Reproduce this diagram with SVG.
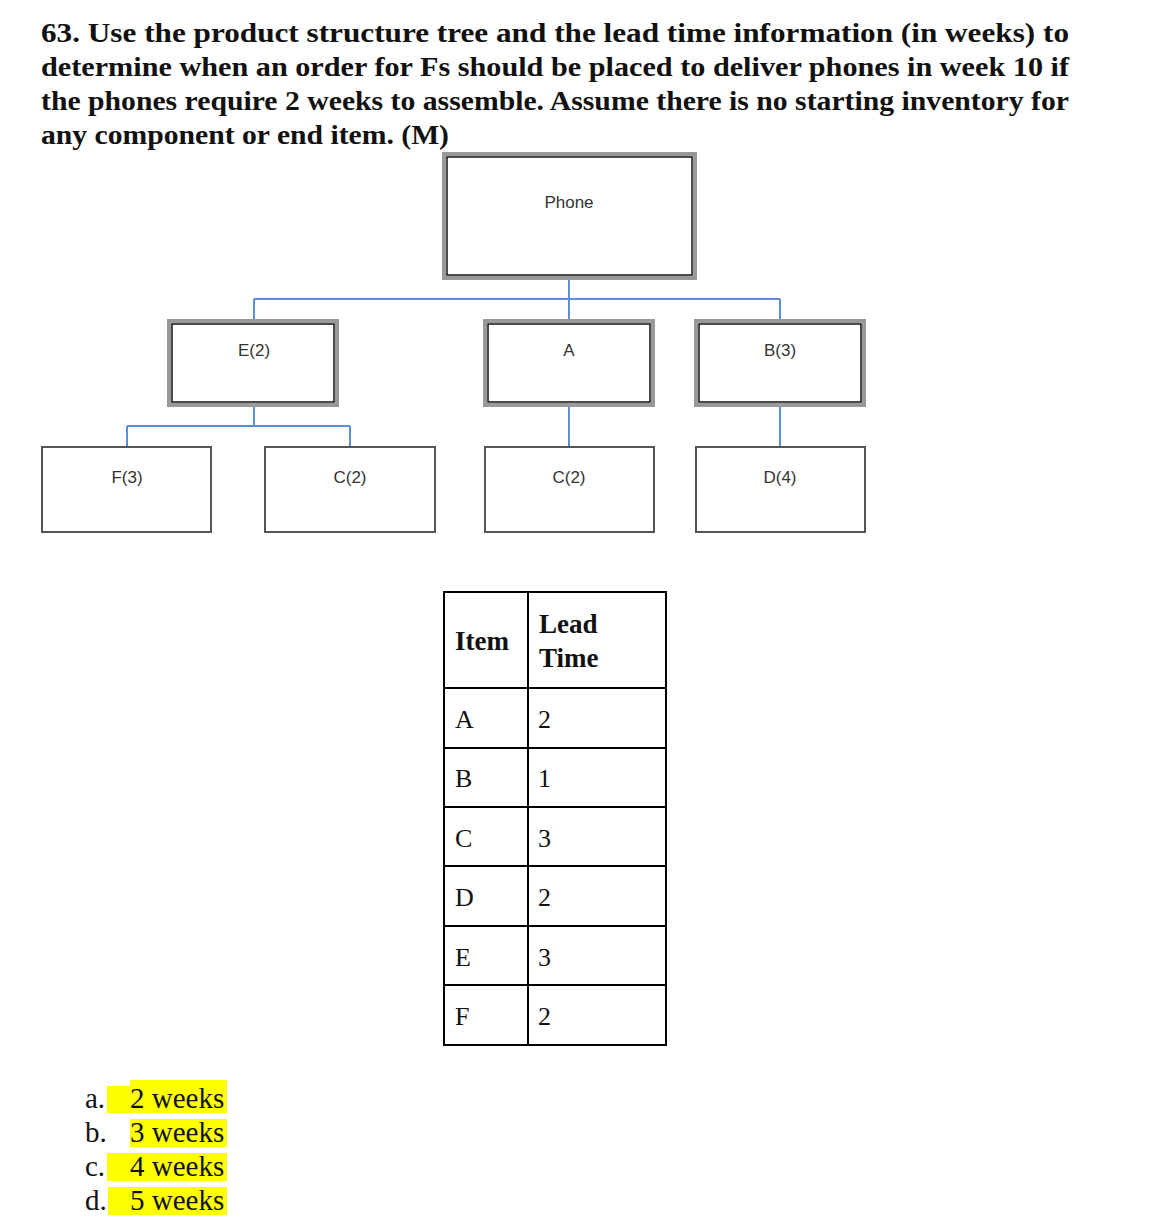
<svg xmlns="http://www.w3.org/2000/svg" width="1162" height="1220" viewBox="0 0 1162 1220">
<style>
.q{font-family:"Liberation Serif",serif;font-size:27px;font-weight:bold;fill:#111}
.n{font-family:"Liberation Sans",Arial,sans-serif;font-size:17px;fill:#333;text-anchor:middle}
.t{font-family:"Liberation Serif",serif;font-size:26px;fill:#111}
.a{font-family:"Liberation Serif",serif;font-size:29px;fill:#111}
.tb{font-family:"Liberation Serif",serif;font-size:27px;font-weight:bold;fill:#111}
.outer{fill:#fff;stroke:#999;stroke-width:4}
.inner{fill:none;stroke:#111;stroke-width:1.5}
.single{fill:#fff;stroke:#555;stroke-width:2}
.c{stroke:#5b8fd8;stroke-width:2;fill:none}
.g{stroke:#000;stroke-width:2;fill:none}
</style>
<rect width="1162" height="1220" fill="#fff"/>
<text class="q" x="41" y="42" textLength="1028" lengthAdjust="spacingAndGlyphs">63. Use the product structure tree and the lead time information (in weeks) to</text>
<text class="q" x="41" y="76" textLength="1028" lengthAdjust="spacingAndGlyphs">determine when an order for Fs should be placed to deliver phones in week 10 if</text>
<text class="q" x="41" y="110" textLength="1028" lengthAdjust="spacingAndGlyphs">the phones require 2 weeks to assemble. Assume there is no starting inventory for</text>
<text class="q" x="41" y="144" textLength="408" lengthAdjust="spacingAndGlyphs">any component or end item. (M)</text>
<g id="connectors">
<path class="c" d="M569 280V299M254 299H780M254 299V319M569 299V319M780 299V319"/>
<path class="c" d="M254 407V426M127 426H350M127 426V446M350 426V446M569 407V446M780 407V446"/>
</g>
<g id="phone"><rect class="outer" x="444" y="154" width="251" height="124"/><rect class="inner" x="447" y="157" width="245" height="118"/><text class="n" x="569" y="208">Phone</text></g>
<g id="e2"><rect class="outer" x="169" y="321" width="168" height="84"/><rect class="inner" x="172" y="324" width="162" height="78"/><text class="n" x="254" y="356">E(2)</text></g>
<g id="a"><rect class="outer" x="485" y="321" width="168" height="84"/><rect class="inner" x="488" y="324" width="162" height="78"/><text class="n" x="569" y="356">A</text></g>
<g id="b3"><rect class="outer" x="696" y="321" width="168" height="84"/><rect class="inner" x="699" y="324" width="162" height="78"/><text class="n" x="780" y="356">B(3)</text></g>
<g id="f3"><rect class="single" x="42" y="447" width="169" height="85"/><text class="n" x="127" y="483">F(3)</text></g>
<g id="c2a"><rect class="single" x="265" y="447" width="170" height="85"/><text class="n" x="350" y="483">C(2)</text></g>
<g id="c2b"><rect class="single" x="485" y="447" width="169" height="85"/><text class="n" x="569" y="483">C(2)</text></g>
<g id="d4"><rect class="single" x="696" y="447" width="169" height="85"/><text class="n" x="780" y="483">D(4)</text></g>
<g id="table">
<rect class="g" x="444" y="592" width="222" height="453"/>
<path class="g" d="M528 592V1045M444 688H666M444 748H666M444 807H666M444 866H666M444 926H666M444 985H666"/>
<text class="tb" x="455" y="650">Item</text>
<text class="tb" x="539" y="633">Lead</text>
<text class="tb" x="539" y="667">Time</text>
<text class="t" x="455" y="728">A</text><text class="t" x="538" y="728">2</text>
<text class="t" x="455" y="787">B</text><text class="t" x="538" y="787">1</text>
<text class="t" x="455" y="847">C</text><text class="t" x="538" y="847">3</text>
<text class="t" x="455" y="906">D</text><text class="t" x="538" y="906">2</text>
<text class="t" x="455" y="966">E</text><text class="t" x="538" y="966">3</text>
<text class="t" x="455" y="1025">F</text><text class="t" x="538" y="1025">2</text>
</g>
<g id="answers">
<g fill="#ffff00">
<rect x="130" y="1080" width="97" height="33"/><rect x="107" y="1086" width="23" height="27"/>
<rect x="130" y="1119" width="97" height="28"/>
<rect x="107" y="1153" width="120" height="28"/>
<rect x="108" y="1187" width="119" height="28"/>
</g>
<text class="a" x="85" y="1108">a.</text><text class="a" x="130" y="1108">2 weeks</text>
<text class="a" x="85" y="1142">b.</text><text class="a" x="130" y="1142">3 weeks</text>
<text class="a" x="85" y="1176">c.</text><text class="a" x="130" y="1176">4 weeks</text>
<text class="a" x="85" y="1210">d.</text><text class="a" x="130" y="1210">5 weeks</text>
</g>
</svg>
